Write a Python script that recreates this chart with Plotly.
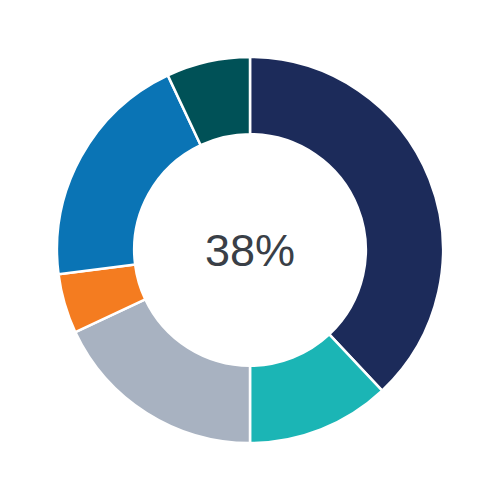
import plotly.graph_objects as go

# slice shares in percent, clockwise from 12 o'clock
labels = ["Navy", "Teal", "Gray", "Orange", "Blue", "Dark teal"]
values = [38, 12, 18, 5, 20, 7]
colors = ["#1c2b5a", "#1bb5b5", "#a8b2c1", "#f47c20", "#0a74b5", "#005157"]
center_text = "38%"

fig = go.Figure(
    go.Pie(
        labels=labels,
        values=values,
        hole=0.6,
        sort=False,
        direction="clockwise",
        rotation=0,
        textinfo="none",
        hoverinfo="label+percent",
        marker=dict(colors=colors, line=dict(color="white", width=2.5)),
    )
)

fig.add_annotation(
    text=center_text,
    x=0.5, y=0.5, xref="paper", yref="paper",
    showarrow=False,
    font=dict(family="Liberation Sans, Arial", size=45, color="#3a3f47"),
)

# the page adds ~8px offset, so shift the plot area up-left
fig.update_layout(
    width=500,
    height=500,
    showlegend=False,
    margin=dict(l=49, r=65, t=49, b=65),
    paper_bgcolor="white",
    plot_bgcolor="white",
)

fig.write_html("out.html")
